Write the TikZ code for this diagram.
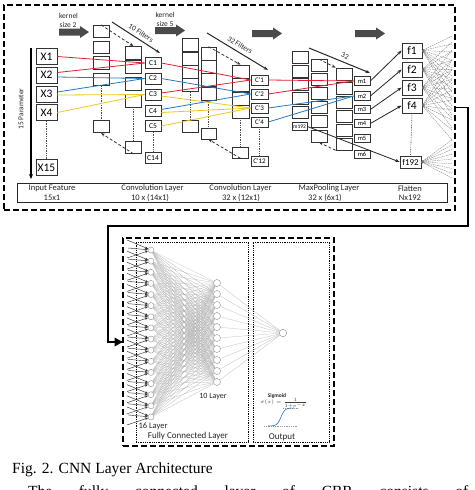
\documentclass[tikz,border=0pt]{standalone}
\usepackage{fontspec}
\setmainfont{Liberation Serif}
\newfontfamily\cali{Carlito}
\usetikzlibrary{arrows.meta,calc}
\newcommand\myfs[1]{\fontsize{#1}{#1}\selectfont}
\definecolor{cred}{HTML}{E02030}
\definecolor{cblue}{HTML}{2878BE}
\definecolor{cyel}{HTML}{EDC81C}
\definecolor{agrey}{HTML}{4A4A4A}
\tikzset{
  bx/.style={draw=black!80, line width=0.7pt, fill=white, rectangle, inner sep=0pt, font={\cali\myfs{7.5}}},
  xbx/.style={bx, minimum width=21pt, minimum height=16pt, font={\cali\myfs{11.5}}},
  cb/.style={bx, minimum width=16pt, minimum height=11pt},
  cpb/.style={bx, minimum width=17pt, minimum height=10pt, font={\cali\myfs{7}}},
  mb/.style={bx, minimum width=16pt, minimum height=8.5pt, font={\cali\myfs{6.5}}},
  fb/.style={bx, minimum width=20pt, minimum height=15pt, font={\cali\myfs{11.5}}},
  cl/.style={line width=0.8pt},
  arr/.style={line width=0.8pt, draw=black!85, -{Stealth[length=4.5pt,width=3.2pt]}},
  dsh/.style={line width=0.8pt, draw=black!80, dash pattern=on 3pt off 2pt, -{Stealth[length=4pt,width=3pt]}},
  dotv/.style={draw=black!70, line width=0.6pt, dash pattern=on 0.8pt off 0.9pt},
  fan/.style={draw=black!55, line width=0.3pt, dash pattern=on 1.5pt off 0.8pt, -{Stealth[length=2pt,width=1.6pt]}},
  lbl/.style={inner sep=0pt, font={\cali\myfs{8.5}}, text=black!85},
  bigframe/.style={draw=black, line width=1.8pt, dash pattern=on 6pt off 3pt, rectangle, inner sep=0pt},
  dotframe/.style={draw=black, line width=1pt, dash pattern=on 1pt off 0.8pt, rectangle, inner sep=0pt},
  neu/.style={circle, draw=black!45, fill=white, minimum size=6pt, inner sep=0pt, line width=0.4pt},
  wire/.style={draw=black!30, line width=0.2pt},
  inarr/.style={draw=black!80, line width=0.45pt, -{Stealth[length=3pt,width=2.5pt]}},
  conn/.style={draw=black, line width=1.8pt},
  garrow/.pic={\fill[agrey] (0,-3.5) -- (21,-3.5) -- (21,-6) -- (30,0) -- (21,6) -- (21,3.5) -- (0,3.5) -- cycle;}
}
\begin{document}
\begin{tikzpicture}[x=1pt,y=-1pt]
\useasboundingbox (0,0) rectangle (474,490);
\fill[white] (0,0) rectangle (474,490);

% ---------- top frame ----------
\node[bigframe, minimum width=451pt, minimum height=205pt] (top) at (229.5,107.5) {};

% grey block arrows and kernel labels
\pic at (59,32) {garrow};
\pic at (155,30.5) {garrow};
\pic at (252,33.5) {garrow};
\pic at (355,33.5) {garrow};
\node[lbl, font={\cali\myfs{7.5}}] (k2t) at (68.5,16) {kernel};
\node[lbl, font={\cali\myfs{7.5}}] (k2s) at (68,25) {size 2};
\node[lbl, font={\cali\myfs{7.5}}] (k5t) at (165,14.5) {kernel};
\node[lbl, font={\cali\myfs{7.5}}] (k5s) at (165,23.5) {size 5};

% input feature
\foreach \n/\y in {1/56.5,2/75,3/94,4/112.5,15/167.5}
  \node[xbx] (X\n) at (46.5,\y) {X\n};
\coordinate (pa) at (31,48);
\coordinate (pb) at (31,179);
\draw[line width=1.2pt, -{Stealth[length=5pt,width=4pt]}] (pa) -- (pb);
\node[lbl, rotate=90, font={\cali\myfs{7.5}}] (ppar) at (21,109) {15 Parameter};
\draw[dotv] (X4.south) -- (X15.north);

% convolution layer 1
\foreach \n/\y in {a/31.5,b/47.5,c/63,d/79.5}
  \node[bx, minimum width=16pt, minimum height=12.5pt] (k1\n) at (101,\y) {};
\node[bx, minimum width=16pt, minimum height=12.5pt] (k1z) at (101,126.5) {};
\foreach \n/\y in {a/53,b/67,c/83.5,d/100.5}
  \node[bx, minimum width=16pt, minimum height=13pt] (k2\n) at (133.5,\y) {};
\node[bx, minimum width=16pt, minimum height=12pt] (k2z) at (133.5,147.5) {};
\foreach \n/\y in {1/63,2/78.5,3/94.5,4/111,5/126,14/158}
  \node[cb] (c\n) at (153,\y) {C\n};
\draw[dotv] (k1d.south) -- (k1z.north);
\draw[dotv] (k2d.south) -- (k2z.north);
\draw[dotv] (c5.south) -- (c14.north);
\draw[dsh] (k1a.north) -- (k2a.north);
\draw[dsh] (k2z.south) -- (k1z.south);
\coordinate (fa1) at (112,22);
\coordinate (fa2) at (160,53);
\draw[arr, line width=1pt] (fa1) -- (fa2);
\node[lbl, rotate=-33, font={\cali\myfs{7.5}}] (f10) at (141,33) {10 Filters};

% convolution layer 2
\foreach \n/\y in {a/45,b/58.5,c/72,d/85}
  \node[bx, minimum width=16pt, minimum height=13pt] (p1\n) at (190,\y) {};
\node[bx, minimum width=16pt, minimum height=12pt] (p1z) at (190,126) {};
\foreach \n/\y in {a/53.5,b/66.5,c/80,d/93.5}
  \node[bx, minimum width=15pt, minimum height=13pt] (p2\n) at (208.5,\y) {};
\node[bx, minimum width=15pt, minimum height=11pt] (p2z) at (208.5,133.5) {};
\foreach \n/\y in {a/71.5,b/85,c/98.5,d/111.5}
  \node[bx, minimum width=17pt, minimum height=13pt] (p3\n) at (240.5,\y) {};
\node[bx, minimum width=16pt, minimum height=11pt] (p3z) at (240.5,152.5) {};
\foreach \n/\y in {1/80,2/94,3/108,4/122,12/161.5}
  \node[cpb] (d\n) at (259.5,\y) {C'\n};
\draw[dotv] (p1d.south) -- (p1z.north);
\draw[dotv] (p2d.south) -- (p2z.north);
\draw[dotv] (p3d.south) -- (p3z.north);
\draw[dotv] (d4.south) -- (d12.north);
\draw[dsh] (p2a.north) -- (p3a.north);
\draw[dsh] (p3z.south) -- (p2z.south);
\coordinate (fb1) at (207,33);
\coordinate (fb2) at (268,70);
\draw[arr, line width=1pt] (fb1) -- (fb2);
\node[lbl, rotate=-31, font={\cali\myfs{7.5}}] (f32) at (240,45) {32 Filters};

% max pooling layer
\foreach \n/\y in {a/57.5,b/71,c/84.5,d/98.5,e/112.5}
  \node[bx, minimum width=16pt, minimum height=12pt] (q1\n) at (300,\y) {};
\node[bx, minimum width=15pt, minimum height=7.5pt, font={\cali\myfs{5.5}}] (mm) at (299.5,126.5) {m192};
\foreach \n/\y in {a/65.5,b/79.5,c/93.5,d/107.5,e/121.5,f/136}
  \node[bx, minimum width=16pt, minimum height=12pt] (q2\n) at (319,\y) {};
\foreach \n/\y in {a/74,b/88,c/102,d/116,e/130,f/144}
  \node[bx, minimum width=16pt, minimum height=12pt] (q3\n) at (344,\y) {};
\foreach \n/\y in {1/81,2/96,3/109.5,4/123.5,5/138.5,6/154.5}
  \node[mb] (m\n) at (362,\y) {m\n};
\draw[dsh] (q2a.north) -- (q3a.north west);
\draw[dsh] (q3f.south west) -- (q2f.south);
\coordinate (fc1) at (309,48);
\coordinate (fc2) at (370,73);
\draw[arr, line width=1pt] (fc1) -- (fc2);
\node[lbl, rotate=-22, font={\cali\myfs{7.5}}] (l32) at (345,56) {32};

% flatten
\foreach \n/\y in {1/50.5,2/69.5,3/87.5,4/105.5}
  \node[fb] (f\n) at (412,\y) {f\n};
\node[fb, minimum width=21pt, minimum height=12pt, font={\cali\myfs{9}}] (f192) at (410.5,162) {f192};
\draw[dotv] (f4.south) -- (f192.north);
\foreach \n in {1,2,3,4}
  \draw[arr] (m\n.east) -- (f\n.west);
\draw[arr] (mm.east) -- (f192.west);
\foreach \f/\a/\b in {f1/36/100,f2/42/115,f3/50/128,f4/60/140,f192/140/178}{
  \foreach \k in {0,...,8}{
    \pgfmathsetmacro\yy{\a+(\b-\a)*\k/8}
    \coordinate (fan\f-\k) at (452,\yy);
    \draw[fan] (fan\f-\k) -- (\f.east);
  }
}

% coloured connections
\draw[cl,cred] (X1.east) -- (c1.west);
\draw[cl,cred] ($(X2.east)+(0,-2.5)$) -- (c1.west);
\draw[cl,cblue] ($(X2.east)+(0,2)$) -- (c2.west);
\draw[cl,cblue] ($(X3.east)+(0,-2)$) -- (c2.west);
\draw[cl,cyel] ($(X3.east)+(0,1)$) -- (c3.west);
\draw[cl,cyel] (X4.east) -- (c3.west);
\draw[cl,cred] (c1.east) -- (d1.west);
\draw[cl,cred] ($(c3.east)+(0,-1.5)$) -- (d1.west);
\draw[cl,cblue] (c2.east) -- (d2.west);
\draw[cl,cblue] ($(c4.east)+(0,-1.5)$) -- (d2.west);
\draw[cl,cyel] ($(c3.east)+(0,1.5)$) -- (d3.west);
\draw[cl,cyel] ($(c4.east)+(0,1.5)$) -- (d3.west);
\draw[cl,cyel] (c5.east) -- (d3.west);
\draw[cl,cred] (d1.east) -- (m1.west);
\draw[cl,cred] (d2.east) -- (m1.west);
\draw[cl,cblue] (d3.east) -- (m2.west);
\draw[cl,cblue] (d4.east) -- (m2.west);

% layer label box
\node[draw=black!85, line width=0.9pt, rectangle, minimum width=430pt, minimum height=19pt, inner sep=0pt] (lab) at (232,192.5) {};
\node[lbl] (t1a) at (52,188.5) {Input Feature};
\node[lbl] (t1b) at (52,197.5) {15x1};
\node[lbl] (t2a) at (152.5,188.5) {Convolution Layer};
\node[lbl] (t2b) at (150,197.5) {10 x (14x1)};
\node[lbl] (t3a) at (240.5,188.5) {Convolution Layer};
\node[lbl] (t3b) at (241,197.5) {32 x (12x1)};
\node[lbl] (t4a) at (329,188.5) {MaxPooling Layer};
\node[lbl] (t4b) at (325,197.5) {32 x (6x1)};
\node[lbl] (t5a) at (410,188.5) {Flatten};
\node[lbl] (t5b) at (410,197.5) {Nx192};

% ---------- bottom frame ----------
\node[bigframe, minimum width=211pt, minimum height=208pt] (bot) at (228.5,342) {};
\node[dotframe, minimum width=112pt, minimum height=200pt] (fc) at (192,342) {};
\node[dotframe, minimum width=76pt, minimum height=200pt] (op) at (291,342) {};

\draw[conn] (top.east) -- ++(12,0) |- (108,226) |- (bot.west);
\fill[black] ($(bot.west)+(0.5,0)$) -- ++(-8,-4.5) -- ++(0,9) -- cycle;

\foreach \i in {0,...,15}{
  \pgfmathsetmacro\yy{250+11.13*\i}
  \node[neu] (in\i) at (151,\yy) {};
}
\foreach \j in {0,...,9}{
  \pgfmathsetmacro\yy{283+11*\j}
  \node[neu, minimum size=7pt] (hd\j) at (217,\yy) {};
}
\node[neu, minimum size=7.5pt] (out) at (283,333) {};
\foreach \i in {0,...,15}{\foreach \j in {0,...,9}{\draw[wire] (in\i) -- (hd\j);}}
\foreach \j in {0,...,9}{\draw[wire] (hd\j) -- (out);}
\foreach \i in {0,...,15}{
  \pgfmathsetmacro\ya{250+11.13*\i-10}
  \pgfmathsetmacro\yb{250+11.13*\i-2}
  \pgfmathsetmacro\yc{250+11.13*\i+8}
  \coordinate (ia\i) at (127,\ya);
  \coordinate (ib\i) at (128,\yb);
  \coordinate (ic\i) at (127,\yc);
  \draw[inarr] (ia\i) -- (in\i);
  \draw[inarr] (ib\i) -- (in\i);
  \draw[inarr] (ic\i) -- (in\i);
}
\node[lbl, font={\cali\myfs{8.5}}] (l16) at (153,426) {16 Layer};
\node[lbl, font={\cali\myfs{8}}] (l10) at (213,397) {10 Layer};
\node[lbl, font={\cali\myfs{9}}] (lfc) at (188,436) {Fully Connected Layer};
\node[lbl, font={\cali\myfs{9}}] (lout) at (282,437) {Output};
\node[lbl, font={\cali\bfseries\myfs{5.5}}] (lsig) at (277,396) {Sigmoid};
\node[lbl, font={\myfs{4.5}}, text=black!75] (lfor) at (284,403.5) {$\sigma(x)=\frac{1}{1+e^{-x}}$};
\draw[black!40, line width=0.4pt, dash pattern=on 1pt off 0.8pt] (264,426) -- (298,426);
\draw[black!40, line width=0.4pt, dash pattern=on 1pt off 0.8pt] (283,408) -- (298,408);
\draw[cblue, line width=0.6pt] plot[domain=-4:4, samples=40, smooth] ({281+3.2*\x},{426-18/(1+exp(-1.6*\x))});

% caption
\node[anchor=base west, inner sep=0pt, font={\myfs{15.5}}] (cap) at (12,473) {Fig. 2. CNN Layer Architecture};
\node[anchor=base west, inner sep=0pt, font={\myfs{15.5}}] (cap2) at (28,496) {\makebox[440pt][s]{The fully connected layer of CBR consists of}};
\end{tikzpicture}
\end{document}
